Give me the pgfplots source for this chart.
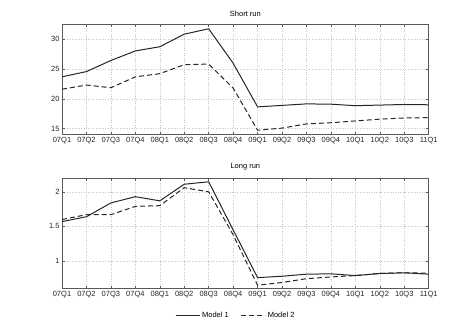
\documentclass[border=0pt]{standalone}
\usepackage{fontspec}
\setmainfont{Liberation Sans}
\usepackage{pgfplots}
\pgfplotsset{compat=1.18}
\usepackage{pgfplotstable}

\pgfplotstableread{
x s1 s2 l1 l2
0 23.67 21.6 1.57 1.60
1 24.55 22.3 1.64 1.67
2 26.4 21.85 1.84 1.67
3 28.0 23.67 1.93 1.79
4 28.7 24.2 1.87 1.80
5 30.8 25.7 2.11 2.06
6 31.7 25.8 2.145 2.00
7 25.95 21.8 1.45 1.38
8 18.65 14.75 0.76 0.65
9 18.9 15.1 0.78 0.69
10 19.15 15.8 0.81 0.745
11 19.1 16.0 0.815 0.77
12 18.85 16.3 0.79 0.79
13 18.95 16.6 0.82 0.82
14 19.05 16.8 0.83 0.83
15 19.0 16.85 0.81 0.825
}\data

\pgfplotsset{
  myax/.style={
    scale only axis,
    width=366.7pt, height=110.7pt,
    xmin=0, xmax=15,
    xtick={0,...,15},
    xticklabels={07Q1,07Q2,07Q3,07Q4,08Q1,08Q2,08Q3,08Q4,09Q1,09Q2,09Q3,09Q4,10Q1,10Q2,10Q3,11Q1},
    tick align=inside,
    major tick length=3pt,
    xmajorgrids, ymajorgrids,
    grid style={gray!45, dotted, line width=0.5pt},
    axis line style={gray!70!black, line width=0.7pt},
    tick style={gray!70!black, line width=0.5pt},
    tick label style={font=\fontsize{7.5}{9}\selectfont, text=black!85},
    title style={font=\fontsize{7.5}{9}\selectfont, yshift=-2pt},
    /pgf/number format/assume math mode=true,
    xticklabel style={yshift=1pt},
    yticklabel style={xshift=1pt},
    every axis plot/.append style={line width=1pt, black!85},
  }
}

\begin{document}
\begin{tikzpicture}
\path[use as bounding box] (0,0) rectangle (474pt,-325pt);
\begin{axis}[myax, at={(62pt,-24pt)}, anchor=north west,
  title={Short run},
  ymin=14, ymax=32.5, ytick={15,20,25,30}]
\addplot[solid] table[x=x,y=s1] {\data};
\addplot[dashed, dash pattern=on 5pt off 3pt] table[x=x,y=s2] {\data};
\end{axis}
\begin{axis}[myax, at={(62pt,-178pt)}, anchor=north west,
  title={Long run},
  ymin=0.6, ymax=2.2, ytick={1,1.5,2},
  legend columns=2,
  legend style={draw=none, fill=none, at={(0.474,-0.17)}, anchor=north,
    font=\fontsize{7.5}{9}\selectfont, /tikz/every even column/.append style={column sep=10pt}},
  legend image code/.code={\draw[#1] (0pt,0pt) -- (24pt,0pt);}]
\addplot[solid] table[x=x,y=l1] {\data};
\addlegendentry{Model 1}
\addplot[dashed, dash pattern=on 5pt off 3pt] table[x=x,y=l2] {\data};
\addlegendentry{Model 2}
\end{axis}
\end{tikzpicture}
\end{document}
